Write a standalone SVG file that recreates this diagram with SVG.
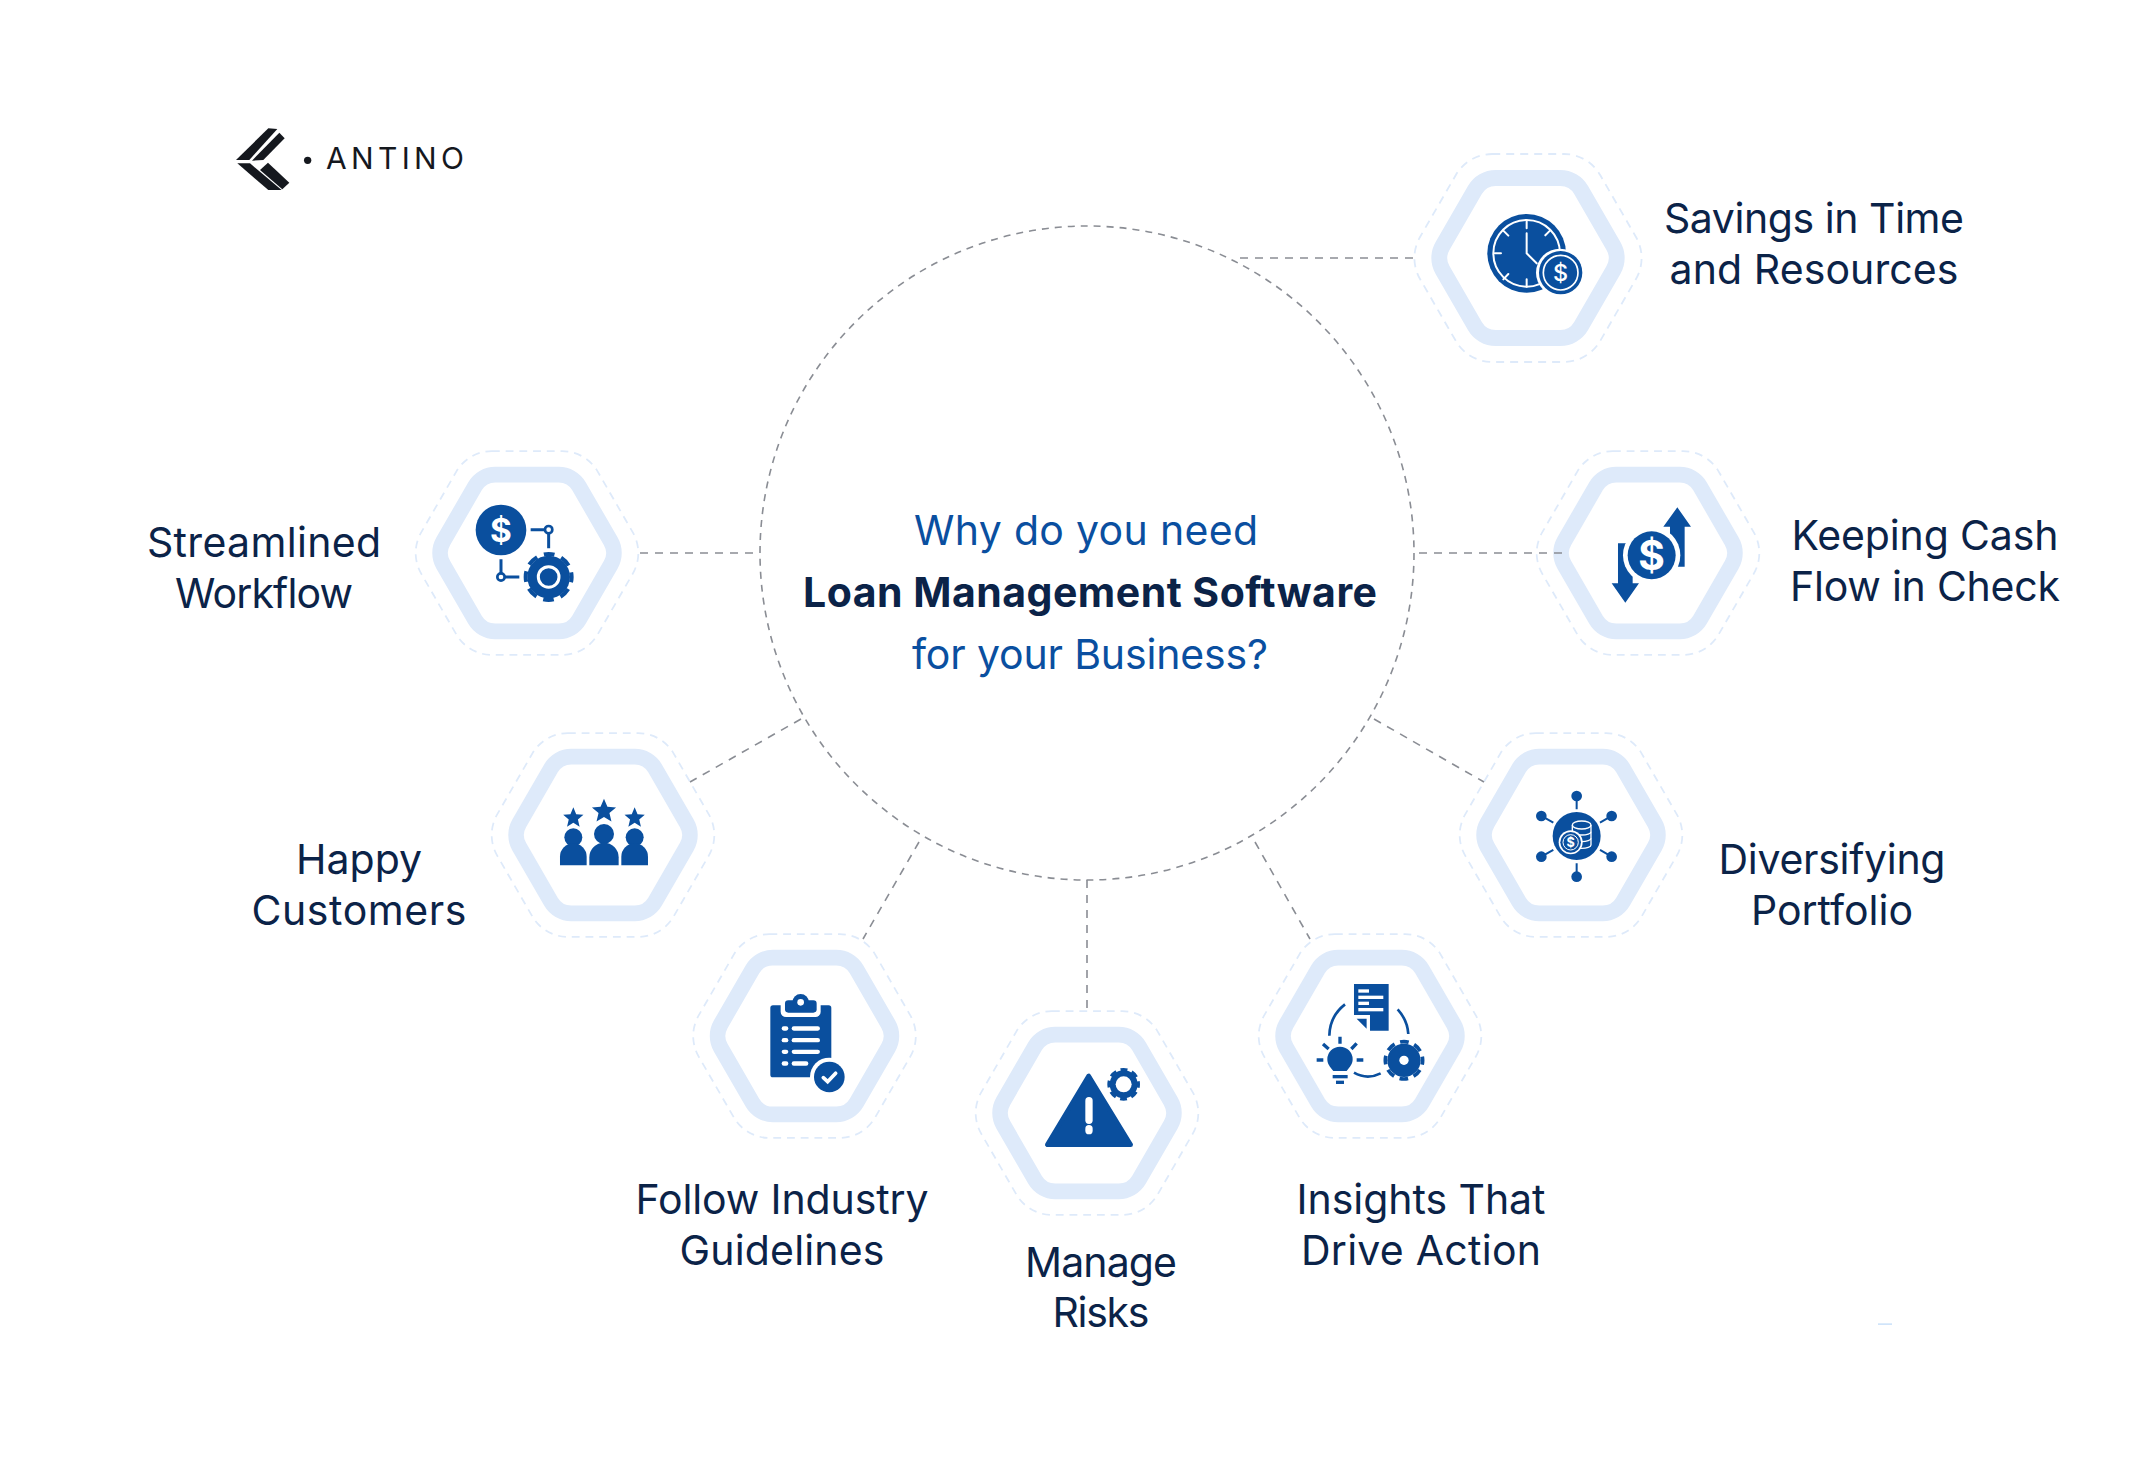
<svg xmlns="http://www.w3.org/2000/svg" width="2148" height="1484" viewBox="0 0 2148 1484">
<style>
text{font-family:"Inter","Liberation Sans",sans-serif}
.lab{font-size:41px;font-weight:400;fill:#0b2348;text-anchor:middle}
.q{font-size:41px;font-weight:400;fill:#0a4fa0;text-anchor:middle}
.qb{font-size:41px;font-weight:700;fill:#0b2348;text-anchor:middle}
.band{fill:#fff;stroke:#deeafa;stroke-width:16}
.ring{fill:none;stroke:#deeafa;stroke-width:1.8;stroke-dasharray:8 6}
.conn{fill:none;stroke:#8a8d94;stroke-width:1.6;stroke-dasharray:8 7}
.b{fill:#0a4f9e}
.w{fill:#fff}
.sb{fill:none;stroke:#0a4f9e;stroke-linecap:butt}
.sw{fill:none;stroke:#fff;stroke-linecap:round}
.t8{fill:none;stroke:#0a4f9e;stroke-dasharray:.6 .4;stroke-dashoffset:.3}
.d{font-weight:700;fill:#fff;text-anchor:middle}
</style>
<defs>
<g id="hex">
<path class="ring" d="M-35.79-104H35.79A42 42 0 0 1 72.16-83L107.97-21A42 42 0 0 1 107.97 21L72.16 83A42 42 0 0 1 35.79 104H-35.79A42 42 0 0 1 -72.16 83L-107.97 21A42 42 0 0 1 -107.97-21L-72.16-83A42 42 0 0 1 -35.79-104Z"/>
<path class="band" d="M-32.33-80H32.33A24 24 0 0 1 53.12-68L85.45-12A24 24 0 0 1 85.45 12L53.12 68A24 24 0 0 1 32.33 80H-32.33A24 24 0 0 1 -53.12 68L-85.45 12A24 24 0 0 1 -85.45-12L-53.12-68A24 24 0 0 1 -32.33-80Z"/>
</g>
<polygon id="star" points="0,-1 .27,-.36 .95,-.31 .43,.14 .59,.81 0,.45 -.59,.81 -.43,.14 -.95,-.31 -.27,-.36"/>
</defs>
<rect width="2148" height="1484" fill="#fff"/>

<g id="logo">
<g transform="translate(200,100) scale(.3333)" fill="#15181e">
<polygon points="108,180 205,85 232,87 148,180"/>
<polygon points="238,98 254,115 190,180 156,182"/>
<polygon points="112,190 150,190 245,270 205,270"/>
<polygon points="180,210 204,188 268,248 247,268"/>
<circle cx="323" cy="181" r="11"/>
</g>
<text x="326" y="169" font-size="30" textLength="138" fill="#15181e" style="font-weight:400">ANTINO</text>
</g>

<g id="center">
<circle cx="1087" cy="553" r="327" fill="none" stroke="#8a8d94" stroke-width="1.6" stroke-dasharray="7 6"/>
<text class="q" x="1086" y="545" textLength="344">Why do you need</text>
<text class="qb" x="1090" y="607" textLength="574">Loan Management Software</text>
<text class="q" x="1090" y="669" textLength="356">for your Business?</text>
</g>

<g id="savings">
<use href="#hex" transform="translate(1528,258)"/>
<g transform="translate(1400,130) scale(.3333)">
<circle class="b" cx="380" cy="370" r="118"/>
<circle cx="380" cy="370" r="100" fill="none" stroke="#fff" stroke-width="6"/>
<path class="sw" stroke-width="6" d="M380 272V295M380 448V470M284 370H303M310 302L325 317M450 302L436 316M310 448L325 432"/>
<path class="sw" stroke-width="6" d="M380 310V370L410 400"/>
<circle class="w" cx="480" cy="428" r="72"/>
<circle class="b" cx="482" cy="428" r="65"/>
<circle cx="482" cy="428" r="52" fill="none" stroke="#fff" stroke-width="5"/>
<text class="d" x="482" y="453" font-size="70" style="font-weight:500">$</text>
</g>
<text class="lab" x="1814" y="233" textLength="300">Savings in Time</text>
<text class="lab" x="1814" y="284" textLength="289">and Resources</text>
</g>

<g id="keeping-cash">
<use href="#hex" transform="translate(1648,553) scale(.98)"/>
<g transform="translate(1520,430) scale(.3333)">
<polygon class="b" points="450,410 494,410 494,290 513,290 472,232 430,290 450,290"/>
<polygon class="b" points="294,340 338,340 338,460 357,460 316,518 275,460 294,460"/>
<circle class="w" cx="395" cy="376" r="86"/>
<circle class="b" cx="395" cy="376" r="72"/>
<text class="d" x="395" y="420" font-size="122">$</text>
</g>
<text class="lab" x="1925" y="550" textLength="267">Keeping Cash</text>
<text class="lab" x="1925" y="601" textLength="270">Flow in Check</text>
</g>

<g id="streamlined">
<use href="#hex" transform="translate(527,553) scale(.98)"/>
<g transform="translate(400,430) scale(.3333)">
<circle class="b" cx="303" cy="300" r="76"/>
<text class="d" x="303" y="336" font-size="100">$</text>
<path class="sb" stroke-width="9" d="M392 299H435M446 312V355M303 388V430M315 441H358"/>
<circle cx="446" cy="299" r="11" fill="#fff" stroke="#0a4f9e" stroke-width="8"/>
<circle cx="303" cy="441" r="11" fill="#fff" stroke="#0a4f9e" stroke-width="8"/>
<circle class="b" cx="446" cy="441" r="64"/>
<circle class="t8" cx="446" cy="441" r="69" stroke-width="12" pathLength="8"/>
<circle cx="446" cy="441" r="31" fill="none" stroke="#fff" stroke-width="9"/>
</g>
<text class="lab" x="264" y="557" textLength="234">Streamlined</text>
<text class="lab" x="264" y="608" textLength="178">Workflow</text>
</g>

<g id="happy">
<use href="#hex" transform="translate(603,835) scale(.98)"/>
<g transform="translate(480,720) scale(.3333)">
<use href="#star" class="b" transform="translate(280,294) scale(32)"/>
<use href="#star" class="b" transform="translate(372,274) scale(38)"/>
<use href="#star" class="b" transform="translate(464,294) scale(32)"/>
<circle class="b" cx="280" cy="352" r="27"/>
<circle class="b" cx="372" cy="342" r="30"/>
<circle class="b" cx="464" cy="352" r="27"/>
<path class="b" d="M240 436V410A40 40 0 0 1 320 410V436Z"/>
<path class="b" d="M328 436V412A44 44 0 0 1 416 412V436Z"/>
<path class="b" d="M424 436V410A40 40 0 0 1 504 410V436Z"/>
</g>
<text class="lab" x="359" y="874" textLength="126">Happy</text>
<text class="lab" x="359" y="925" textLength="215">Customers</text>
</g>

<g id="diversifying">
<use href="#hex" transform="translate(1571,835) scale(.98)"/>
<g transform="translate(1440,720) scale(.3333)">
<circle class="b" cx="410" cy="348" r="72"/>
<path class="sb" stroke-width="6" d="M410 228V268M410 470V430M304 288L340 308M515 288L480 308M304 410L340 390M515 410L480 390"/>
<circle class="b" cx="410" cy="228" r="16"/><circle class="b" cx="410" cy="470" r="16"/>
<circle class="b" cx="304" cy="288" r="16"/><circle class="b" cx="515" cy="288" r="16"/>
<circle class="b" cx="304" cy="410" r="16"/><circle class="b" cx="515" cy="410" r="16"/>
<path d="M397 315V375A28 10 0 0 0 453 375V315" fill="none" stroke="#fff" stroke-width="4"/>
<ellipse cx="425" cy="315" rx="28" ry="12" fill="none" stroke="#fff" stroke-width="4"/>
<path d="M397 335A28 10 0 0 0 453 335M397 355A28 10 0 0 0 453 355" fill="none" stroke="#fff" stroke-width="4"/>
<circle class="w" cx="392" cy="367" r="36"/>
<circle class="b" cx="392" cy="367" r="31"/>
<circle cx="392" cy="367" r="23" fill="none" stroke="#fff" stroke-width="3"/>
<text class="d" x="392" y="381" font-size="38">$</text>
</g>
<text class="lab" x="1832" y="874" textLength="227">Diversifying</text>
<text class="lab" x="1832" y="925" textLength="162">Portfolio</text>
</g>

<g id="follow">
<use href="#hex" transform="translate(804.5,1036) scale(.98)"/>
<g transform="translate(680,925) scale(.3333)">
<rect class="b" x="271" y="241" width="183" height="216" rx="8"/>
<rect class="w" x="302" y="220" width="120" height="56" rx="16"/>
<rect class="b" x="315" y="226" width="95" height="37" rx="10"/>
<circle class="b" cx="362" cy="232" r="25"/>
<circle class="w" cx="362" cy="232" r="10"/>
<rect class="w" x="305" y="304" width="20" height="13" rx="6.5"/><rect class="w" x="335" y="304" width="85" height="13" rx="6.5"/>
<rect class="w" x="305" y="339" width="20" height="13" rx="6.5"/><rect class="w" x="335" y="339" width="85" height="13" rx="6.5"/>
<rect class="w" x="305" y="374" width="20" height="13" rx="6.5"/><rect class="w" x="335" y="374" width="85" height="13" rx="6.5"/>
<rect class="w" x="305" y="409" width="20" height="13" rx="6.5"/><rect class="w" x="335" y="409" width="50" height="13" rx="6.5"/>
<circle class="w" cx="448" cy="456" r="58"/>
<circle class="b" cx="448" cy="456" r="46"/>
<path class="sw" stroke-width="11" d="M430 458L443 470L467 445"/>
</g>
<text class="lab" x="782" y="1214" textLength="293">Follow Industry</text>
<text class="lab" x="782" y="1265" textLength="205">Guidelines</text>
</g>

<g id="manage">
<use href="#hex" transform="translate(1087,1113) scale(.98)"/>
<g transform="translate(970,1000) scale(.3333)">
<polygon class="b" points="356,228 232,434 482,434" stroke="#0a4f9e" stroke-width="14" stroke-linejoin="round"/>
<rect class="w" x="346" y="291" width="22" height="81" rx="11"/>
<rect class="w" x="346" y="375" width="22" height="28" rx="11"/>
<circle class="b" cx="461" cy="253" r="42"/>
<circle class="t8" cx="461" cy="253" r="44" stroke-width="10" pathLength="8"/>
<circle class="w" cx="461" cy="253" r="24"/>
</g>
<text class="lab" x="1101" y="1277" textLength="152">Manage</text>
<text class="lab" x="1101" y="1327" textLength="97">Risks</text>
</g>

<g id="insights">
<use href="#hex" transform="translate(1370,1036) scale(.98)"/>
<g transform="translate(1250,925) scale(.3333)">
<polygon class="b" points="312,177 416,177 416,317 360,317 360,270 312,270"/>
<polygon class="b" points="320,281 350,281 350,311"/>
<rect class="w" x="325" y="193" width="32" height="10"/><rect class="w" x="325" y="212" width="75" height="10"/>
<rect class="w" x="325" y="230" width="32" height="10"/><rect class="w" x="325" y="249" width="75" height="10"/>
<path class="sb" stroke-width="8" d="M238 332A122 122 0 0 1 285 238M443 253A122 122 0 0 1 475 327M312 443A85 85 0 0 0 392 445"/>
<path class="b" d="M250 438C240 425 232 418 232 403A38 38 0 0 1 308 403C308 418 300 425 290 438Z"/>
<rect class="b" x="248" y="450" width="45" height="10"/><rect class="b" x="258" y="467" width="24" height="10"/>
<path class="sb" stroke-width="10" d="M270 335V356M219 357L236 372M320 355L304 372M200 405H220M320 405H340"/>
<circle class="b" cx="462" cy="406" r="50"/>
<circle class="t8" cx="462" cy="406" r="56" stroke-width="11" pathLength="8"/>
<circle class="w" cx="462" cy="406" r="14"/>
</g>
<text class="lab" x="1421" y="1214" textLength="249">Insights That</text>
<text class="lab" x="1421" y="1265" textLength="240">Drive Action</text>
</g>

<g id="connectors">
<path class="conn" d="M1240 258H1413"/>
<path class="conn" d="M640 553H760"/>
<path class="conn" d="M1419 553H1568"/>
<path class="conn" d="M801 719L690 782"/>
<path class="conn" d="M1374 719L1484 782"/>
<path class="conn" d="M919 842L863 939"/>
<path class="conn" d="M1087 880V1011"/>
<path class="conn" d="M1255 842L1310 939"/>
</g>
<rect id="mark" x="1878" y="1323.5" width="14" height="1.2" fill="#bcd9f8"/>
</svg>
